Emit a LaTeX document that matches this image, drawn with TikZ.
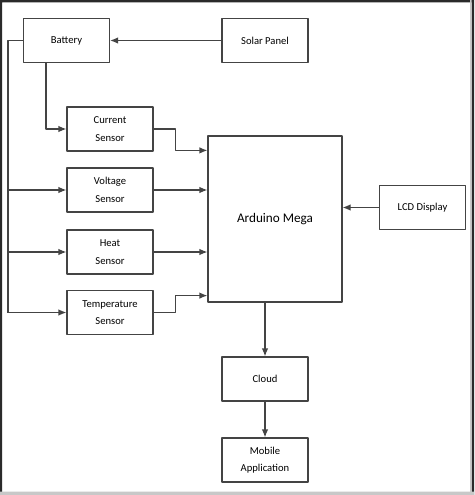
\documentclass[tikz,border=0pt]{standalone}
\usepackage{fontspec}
\setmainfont{Carlito}
\usetikzlibrary{arrows.meta,calc}
\definecolor{linegray}{HTML}{444444}
\definecolor{framedark}{HTML}{2A2A2A}
\definecolor{framelight}{HTML}{C8C8C8}
\begin{document}
\begin{tikzpicture}[x=1pt,y=-1pt,line join=round,
	blok/.style={draw=linegray,line width=1.2pt,minimum width=86pt,minimum height=44pt,
		inner sep=0pt,align=center,font=\fontsize{10.6}{17.5}\selectfont},
	link/.style={draw=linegray,line width=1.2pt},
	arr/.style={link,-{Latex[length=8pt,width=6.5pt]}}]
	
	% frame of the scan
	\fill[white] (0,0) rectangle (474,495);
	\fill[framedark] (0,0) rectangle (474,2.5) (0,0) rectangle (2.2,495) (471.7,0) rectangle (474,495);
	\fill[framelight] (0,491.7) rectangle (474,495) (470,0) rectangle (471.7,495);
	
	\node[blok] (battery) at (66.5,40.5) {Battery};
	\node[blok] (solar) at (265,40.5) {Solar Panel};
	\node[blok] (current) at (110,129) {Current\\Sensor};
	\node[blok] (voltage) at (110,190) {Voltage\\Sensor};
	\node[blok] (heat) at (110,252) {Heat\\Sensor};
	\node[blok] (temp) at (110,312.5) {Temperature\\Sensor};
	\node[blok,minimum width=134pt,minimum height=166pt,font=\fontsize{13.2}{16}\selectfont] (arduino) at (275,219) {Arduino Mega};
	\node[blok] (lcd) at (422.5,207.5) {LCD Display};
	\node[blok] (cloud) at (265,379) {Cloud};
	\node[blok] (mobile) at (265,460) {Mobile\\Application};
	
	\coordinate (bustop) at (8,40.5);
	\coordinate (busbot) at (8,312.5);
	
	\draw[arr] (solar.west)--(battery.east);
	\draw[link] (battery.west)--(bustop)--(busbot);
	\draw[arr] ([xshift=-20.5pt]battery.south) |- (current.west);
	\draw[arr] (bustop |- voltage.west)--(voltage.west);
	\draw[arr] (bustop |- heat.west)--(heat.west);
	\draw[arr] (busbot)--(temp.west);
	\draw[arr] (current.east)--++(22,0) |- ([yshift=-15pt]arduino.north west);
	\draw[arr] (voltage.east)--(voltage.east -| arduino.west);
	\draw[arr] (heat.east)--(heat.east -| arduino.west);
	\draw[arr] (temp.east)--++(22,0) |- ([yshift=7pt]arduino.south west);
	\draw[arr] (lcd.west)--(lcd.west -| arduino.east);
	\draw[arr] (cloud.north |- arduino.south)--(cloud.north);
	\draw[arr] (cloud.south)--(mobile.north);
\end{tikzpicture}
\end{document}
